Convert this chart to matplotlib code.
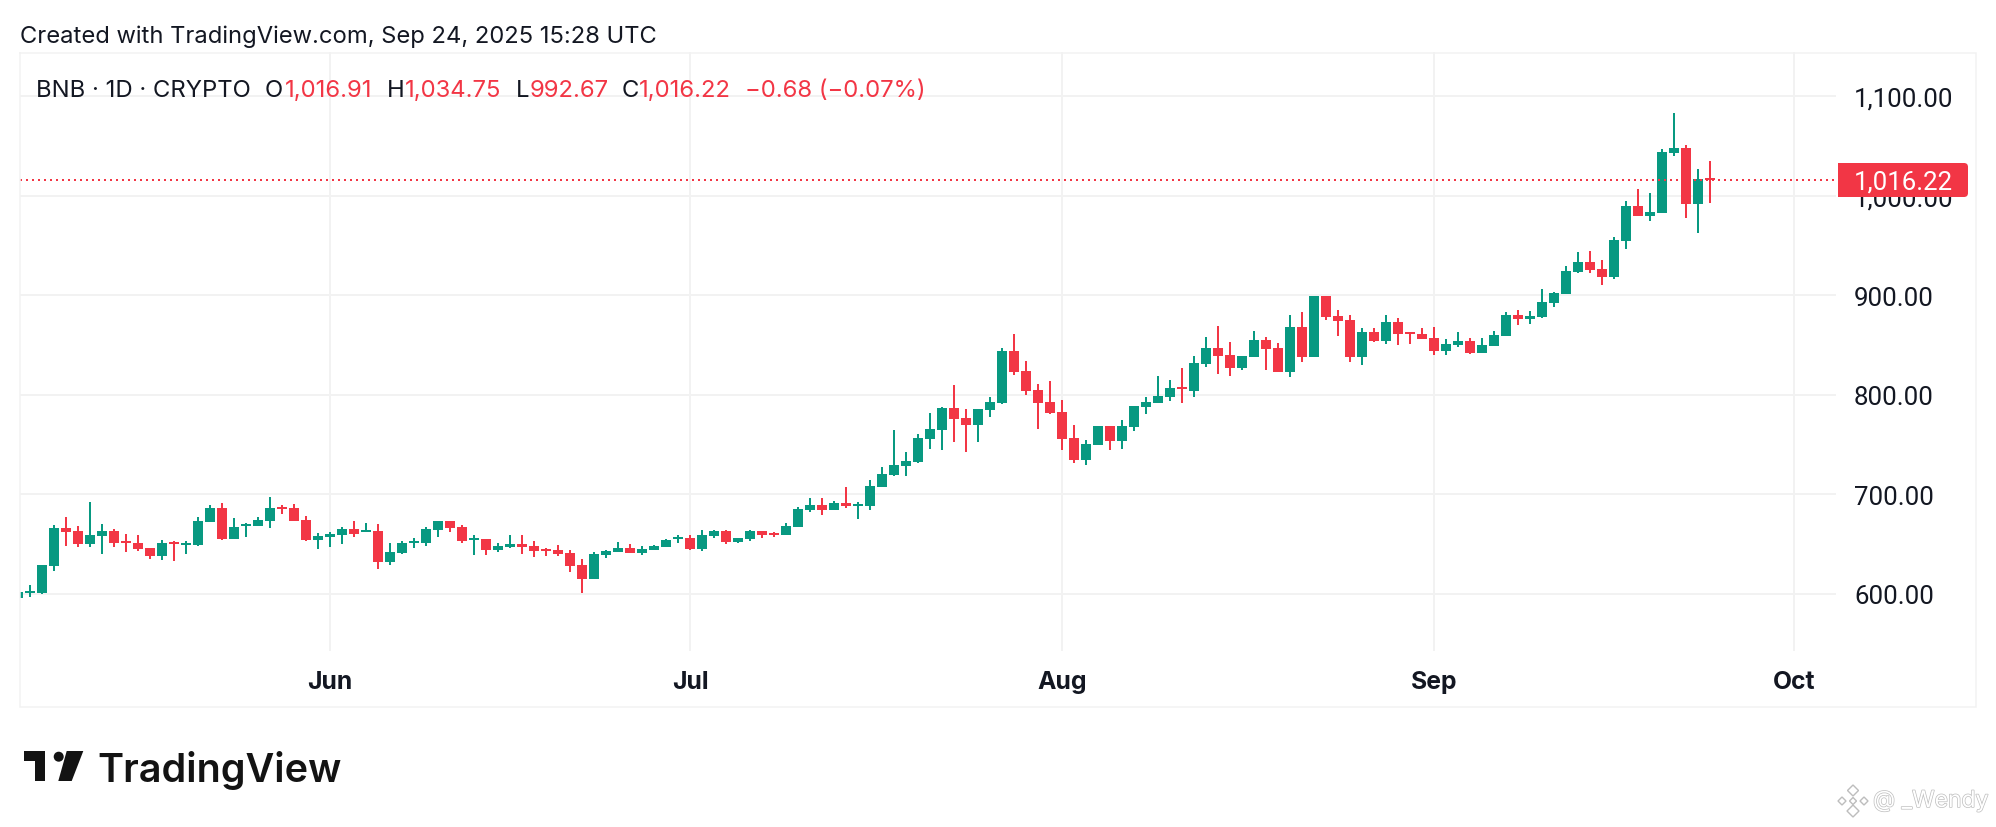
import matplotlib
matplotlib.use("Agg")
import matplotlib.pyplot as plt
import matplotlib.dates as mdates
import matplotlib.patheffects as pe
from matplotlib.patches import Polygon, Circle, FancyBboxPatch, Rectangle
import pandas as pd

plt.rcParams['font.family'] = ['Inter', 'Roboto', 'DejaVu Sans']

W, H = 1996, 828
UP = '#089981'
DOWN = '#F23645'
GRID = '#f2f2f2'
INK = '#131722'

start_date = '2025-05-06'
opens = [
 596,601,601,628.1,666.3,663.3,650.3,658.3,663.3,653.3,
 651.3,646.2,638.2,652.3,649.2,649.2,672.4,686.4,655.3,668.3,
 668.3,673.4,687.4,686.4,674.4,654.3,657.3,659.3,665.3,662.3,
 663.3,632.2,641.2,651.3,651.3,664.3,673.4,667.3,654.3,655.3,
 644.2,647.2,650.3,648.2,645.2,644.2,641.2,629.1,615.1,639.2,
 642.2,646.2,641.2,644.2,647.2,655.3,656.3,645.2,658.3,663.3,
 652.3,655.3,663.3,661.3,659.3,667.3,684.4,689.4,684.4,691.5,
 688.4,688.4,707.5,719.3,728.3,732.3,755.4,764.5,786.6,776.6,
 769.5,784.6,791.6,843.9,823.8,804.7,792.6,782.6,756.5,734.3,
 749.4,768.5,753.4,767.5,787.6,791.6,797.7,807.7,803.7,830.8,
 846.9,839.9,827.3,838.4,855.4,847.4,823.3,868.5,838.4,899.7,
 879.6,875.5,838.4,863.5,854.4,873.5,863.5,861.5,857.4,844.4,
 850.4,854.4,842.4,849.4,859.5,880.6,876.5,878.6,892.6,901.7,
 923.3,933.3,926.3,918.3,954.4,989.6,979.6,982.6,1042.9,1047.9,
 991.6,1016.91]
highs = [
 602,609,629.1,669.3,677.4,668.3,692.5,670.4,665.3,660.3,
 659.3,646.2,654.3,653.3,653.3,677.4,689.4,691.5,676.4,671.4,
 677.4,697.5,689.4,690.5,678.4,661.3,662.3,667.3,673.4,671.4,
 670.4,651.3,653.3,656.3,667.3,673.4,673.4,669.3,659.3,655.3,
 651.3,659.3,659.3,653.3,646.2,649.2,644.2,635.2,642.2,644.2,
 652.3,650.3,648.2,649.2,655.3,659.3,659.3,664.3,664.3,664.3,
 656.3,664.3,663.3,662.3,671.4,687.4,696.5,696.5,693.5,707.5,
 692.5,714.6,727.6,764.5,742.4,760.5,781.6,787.6,809.7,785.6,
 785.6,797.7,846.9,861.0,833.8,810.7,813.7,794.6,769.5,754.4,
 768.5,768.5,774.5,788.6,797.7,818.8,814.7,826.8,838.9,858.0,
 869.1,852.9,839.4,864.5,858.5,852.4,880.6,883.6,899.7,899.7,
 885.6,880.6,867.5,867.5,880.6,877.6,863.5,867.5,868.5,856.4,
 863.5,857.4,857.4,864.5,883.6,885.6,884.6,906.7,903.7,929.8,
 943.4,944.4,935.3,958.5,994.6,1006.7,1002.7,1046.9,1083.1,1050.9,
 1026.8,1034.75]
lows = [
 596,597,600,623.1,648.2,647.2,647.2,640.2,647.2,642.2,
 643.2,635.2,634.2,633.2,640.2,648.2,672.4,654.3,655.3,657.3,
 668.3,666.3,680.4,673.4,653.3,645.2,647.2,650.3,657.3,662.3,
 625.1,629.1,640.2,646.2,648.2,657.3,662.3,651.3,639.2,639.2,
 642.2,646.2,640.2,637.2,638.2,638.2,622.1,601.0,615.1,636.2,
 642.2,641.2,639.2,644.2,647.2,651.3,644.2,643.2,656.3,650.3,
 651.3,653.3,656.3,657.3,659.3,667.3,682.4,679.4,684.4,686.4,
 675.4,684.4,707.5,718.3,718.3,731.3,745.4,744.4,752.4,742.4,
 752.4,777.6,790.6,819.8,799.7,765.5,780.6,744.4,731.3,729.3,
 749.4,744.4,745.4,763.5,780.6,791.6,793.6,791.6,797.7,827.8,
 820.8,818.8,825.3,838.4,825.3,823.3,818.3,833.3,838.4,875.5,
 859.5,833.3,830.3,853.4,851.4,850.4,851.4,856.4,840.4,840.4,
 848.4,841.4,842.4,849.4,859.5,870.5,871.5,877.6,888.6,901.7,
 922.3,922.3,910.2,916.3,946.4,979.6,974.5,982.6,1039.9,977.6,
 962.5,992.67]
closes = [
 602,603,629.1,666.3,662.3,650.3,659.3,663.3,651.3,651.3,
 645.2,638.2,651.3,650.3,651.3,673.4,686.4,655.3,667.3,670.4,
 674.4,686.4,685.4,673.4,654.3,658.3,660.3,665.3,660.3,664.3,
 632.2,642.2,651.3,653.3,665.3,673.4,666.3,653.3,656.3,644.2,
 648.2,650.3,647.2,643.2,643.2,640.2,628.1,615.1,640.2,643.2,
 646.2,641.2,645.2,648.2,654.3,657.3,645.2,659.3,663.3,652.3,
 656.3,663.3,659.3,659.3,668.3,685.4,689.4,684.4,691.5,688.4,
 690.5,708.5,720.6,729.3,733.3,756.5,765.5,786.6,775.5,769.5,
 785.6,792.6,843.9,822.8,803.7,791.6,781.6,755.4,734.3,750.4,
 768.5,753.4,768.5,788.6,792.6,798.7,806.7,805.7,831.8,846.9,
 838.9,826.8,839.4,855.4,846.4,823.3,868.5,838.4,899.7,878.6,
 874.5,838.4,863.5,854.4,873.5,861.5,861.5,856.4,844.4,851.4,
 854.4,842.4,850.4,860.5,880.6,876.5,879.6,893.6,902.7,924.8,
 933.3,925.3,918.3,955.4,989.6,979.6,983.6,1043.9,1047.9,991.6,
 1016.8,1016.22]
price_ticks = [600, 700, 800, 900, 1000, 1100]
month_ticks = ['2025-06-01', '2025-07-01', '2025-08-01', '2025-09-01', '2025-10-01']
month_labels = ['Jun', 'Jul', 'Aug', 'Sep', 'Oct']

title_text = 'Created with TradingView.com, Sep 24, 2025 15:28 UTC'
legend_parts = [
    ('BNB · 1D · CRYPTO', 36, INK), ('O', 265, INK), ('1,016.91', 285, DOWN),
    ('H', 387, INK), ('1,034.75', 405, DOWN), ('L', 516, INK), ('992.67', 530, DOWN),
    ('C', 622, INK), ('1,016.22', 639, DOWN), ('−0.68 (−0.07%)', 745, DOWN),
]

dates = mdates.date2num(pd.date_range(start_date, periods=len(opens), freq='D'))

fig = plt.figure(figsize=(W / 100, H / 100), dpi=100, facecolor='white')
L, R, T, B = 20, 1836, 53, 652
ax = fig.add_axes([L / W, 1 - B / H, (R - L) / W, (B - T) / H])
ax.set_facecolor('white')
px_per_unit = 0.9954
ax.set_ylim(600 - (B - 595) / px_per_unit, 600 + (595 - T) / px_per_unit)
x0 = dates[0]
ax.set_xlim(x0 + (L - 18) / 12, x0 + (R - 18) / 12)
for s in ax.spines.values():
    s.set_visible(False)

month_x = mdates.date2num(pd.to_datetime(month_ticks))
lw2 = 2 * 72 / 100
for v in price_ticks:
    ax.axhline(v, color=GRID, lw=lw2, zorder=1)
for m in month_x:
    ax.axvline(m, color=GRID, lw=lw2, zorder=1)

colors = [UP if c >= o else DOWN for o, c in zip(opens, closes)]
ax.vlines(dates, lows, highs, colors=colors, lw=lw2, zorder=3, capstyle='butt')
min_h = 2 / px_per_unit
bottoms, heights = [], []
for o, c in zip(opens, closes):
    lo, hi = min(o, c), max(o, c)
    if hi - lo < min_h:
        mid = (hi + lo) / 2
        lo, hi = mid - min_h / 2, mid + min_h / 2
    bottoms.append(lo)
    heights.append(hi - lo)
ax.bar(dates, heights, bottom=bottoms, width=10 / 12, color=colors, linewidth=0, zorder=4)
ax.axhline(closes[-1], color=DOWN, lw=lw2, ls=(0, (1, 2)), dash_capstyle='butt', zorder=5)

ax.yaxis.tick_right()
ax.set_yticks(price_ticks)
ax.set_yticklabels([f'{v:,.2f}' for v in price_ticks], ha='left', color=INK,
                   fontsize=18.6, family=['Roboto', 'DejaVu Sans'])
ax.tick_params(axis='y', length=0, pad=13)
ax.set_xticks(month_x)
ax.set_xticklabels(month_labels, color=INK, fontsize=17.8, fontweight='bold')
ax.tick_params(axis='x', length=0, pad=14)

# overlay in pixel coordinates for frame, texts and logo
ov = fig.add_axes([0, 0, 1, 1], zorder=5)
ov.set_xlim(0, W)
ov.set_ylim(H, 0)
ov.axis('off')
ov.patch.set_alpha(0)
ov.plot([20, 1976, 1976, 20, 20], [53.5, 53.5, 708, 708, 53.5], color=GRID, lw=1.1, solid_joinstyle='miter')

ov.text(20, 43.5, title_text, fontsize=17.1, color=INK, va='baseline', ha='left')
for s, x, c in legend_parts:
    ov.text(x, 97, s, fontsize=17.2, color=c, va='baseline', ha='left')

ov.add_patch(FancyBboxPatch((1838, 164), 130, 34, boxstyle='round,pad=0,rounding_size=4',
                            fc=DOWN, ec='none', mutation_aspect=1))
ov.add_patch(Rectangle((1838, 164), 10, 34, fc=DOWN, ec='none'))
ov.text(1854, 189.5, f'{closes[-1]:,.2f}', fontsize=18.6, color='white', va='baseline', ha='left',
        family=['Roboto', 'DejaVu Sans'])

# TradingView logo
LOGO = '#131313'
ov.add_patch(Polygon([(24, 752), (45, 752), (45, 782), (35, 782), (35, 762), (24, 762)], fc=LOGO, ec='none'))
ov.add_patch(Circle((58.7, 757.7), 5, fc=LOGO, ec='none'))
ov.add_patch(Polygon([(66.7, 752), (83.3, 752), (71.7, 782), (58.3, 782)], fc=LOGO, ec='none'))
ov.text(97.5, 782, 'TradingView', fontsize=28.5, color=LOGO, fontweight='semibold', va='baseline', ha='left')

# watermark
edge = '#bdbdbd'
for cx, cy, r in [(1853, 791.5, 5.5), (1853, 812, 6), (1842, 802, 4), (1864, 802, 4), (1853, 802, 3.5)]:
    ov.add_patch(Polygon([(cx - r, cy), (cx, cy - r), (cx + r, cy), (cx, cy + r)], fc='white', ec=edge, lw=1))
t = ov.text(1873, 802, '@ _Wendy', fontsize=16.5, color='white', va='center', ha='left')
t.set_path_effects([pe.Stroke(linewidth=1.0, foreground=edge), pe.Normal()])

fig.savefig('out.png', dpi=100, facecolor='white')
